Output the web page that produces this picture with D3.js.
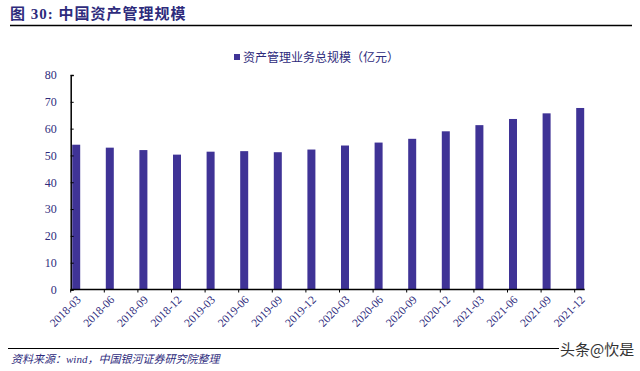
<!DOCTYPE html>
<html>
<head>
<meta charset="utf-8">
<script src="https://cdn.jsdelivr.net/npm/d3@7"></script>
<style>
  body { margin: 0; background: #fff; }
  svg { display: block; }
  text { font-family: "Liberation Serif", "Noto Sans CJK SC", serif; }
</style>
</head>
<body>
<script>
var months = ["2018-03","2018-06","2018-09","2018-12","2019-03","2019-06","2019-09","2019-12",
              "2020-03","2020-06","2020-09","2020-12","2021-03","2021-06","2021-09","2021-12"];
var scale = [54.0, 52.9, 52.0, 50.3, 51.4, 51.6, 51.2, 52.2, 53.7, 54.8, 56.2, 59.0, 61.3, 63.6, 65.7, 67.7];
var yTicks = [0, 10, 20, 30, 40, 50, 60, 70, 80];

var width = 640, height = 371;
var navy = "#2e2b7c", barColor = "#3f3396";

var svg = d3.select("body").append("svg").attr("width", width).attr("height", height);

// title
svg.append("text").attr("x", 10).attr("y", 19)
  .style("font-size", "15px").style("font-weight", "bold").style("letter-spacing", "1px").attr("fill", navy)
  .text("图 30:  中国资产管理规模");
svg.append("line").attr("x1", 10).attr("x2", 632).attr("y1", 25.5).attr("y2", 25.5)
  .attr("stroke", "#000").attr("stroke-width", 1.5);

var x0 = 70.7, step = 33.6;
var x = d3.scaleBand().domain(months).range([x0, x0 + step * months.length]);
var y = d3.scaleLinear().domain([0, 80]).range([289.5, 75]);

// bars
svg.selectAll("rect.bar").data(months).enter().append("rect")
  .attr("class", "bar")
  .attr("x", function(d){ return x(d) + 1.5; })
  .attr("width", 8)
  .attr("y", function(d, i){ return y(scale[i]); })
  .attr("height", function(d, i){ return y(0) - y(scale[i]); })
  .attr("fill", barColor);

// y axis
var yAxis = d3.axisLeft(y).tickValues(yTicks).tickSize(-3).tickPadding(14);
var gy = svg.append("g").attr("transform", "translate(" + x0 + ",0)").call(yAxis);
gy.select(".domain").attr("stroke", "#000").attr("stroke-width", 1.5);
gy.selectAll(".tick line").attr("stroke", "#000");
gy.selectAll(".tick text").attr("fill", navy).style("font-size", "12px");

// x axis
var gx = svg.append("g").attr("transform", "translate(0," + y(0) + ")");
gx.append("line").attr("x1", x0).attr("x2", x(months[15]) + 10).attr("stroke", "#000").attr("stroke-width", 1.5);
gx.selectAll("line.tk").data(months).enter().append("line").attr("class", "tk")
  .attr("x1", function(d){ return x(d); }).attr("x2", function(d){ return x(d); })
  .attr("y1", 0).attr("y2", 3).attr("stroke", "#000");
gx.selectAll("text").data(months).enter().append("text")
  .attr("transform", function(d){ return "translate(" + (x(d) + 8) + ",8) rotate(-45)"; })
  .attr("text-anchor", "end").attr("dy", "0.35em")
  .attr("fill", navy).style("font-size", "11.5px")
  .text(function(d){ return d; });

// legend
svg.append("rect").attr("x", 234).attr("y", 54).attr("width", 6).attr("height", 6).attr("fill", barColor);
svg.append("text").attr("x", 243).attr("y", 61.5).attr("fill", navy).style("font-size", "12px")
  .text("资产管理业务总规模（亿元）");

// footer
svg.append("line").attr("x1", 8).attr("x2", 559).attr("y1", 348.5).attr("y2", 348.5)
  .attr("stroke", "#000").attr("stroke-width", 1.2);
svg.append("text").attr("x", 11).attr("y", 363).attr("fill", navy)
  .style("font-size", "11px").style("font-style", "italic")
  .text("资料来源：wind，中国银河证券研究院整理");
svg.append("text").attr("x", 560).attr("y", 355).attr("fill", "#333")
  .style("font-family", "'Noto Sans CJK SC', sans-serif").style("font-size", "15px")
  .text("头条@忺是");
</script>
</body>
</html>
